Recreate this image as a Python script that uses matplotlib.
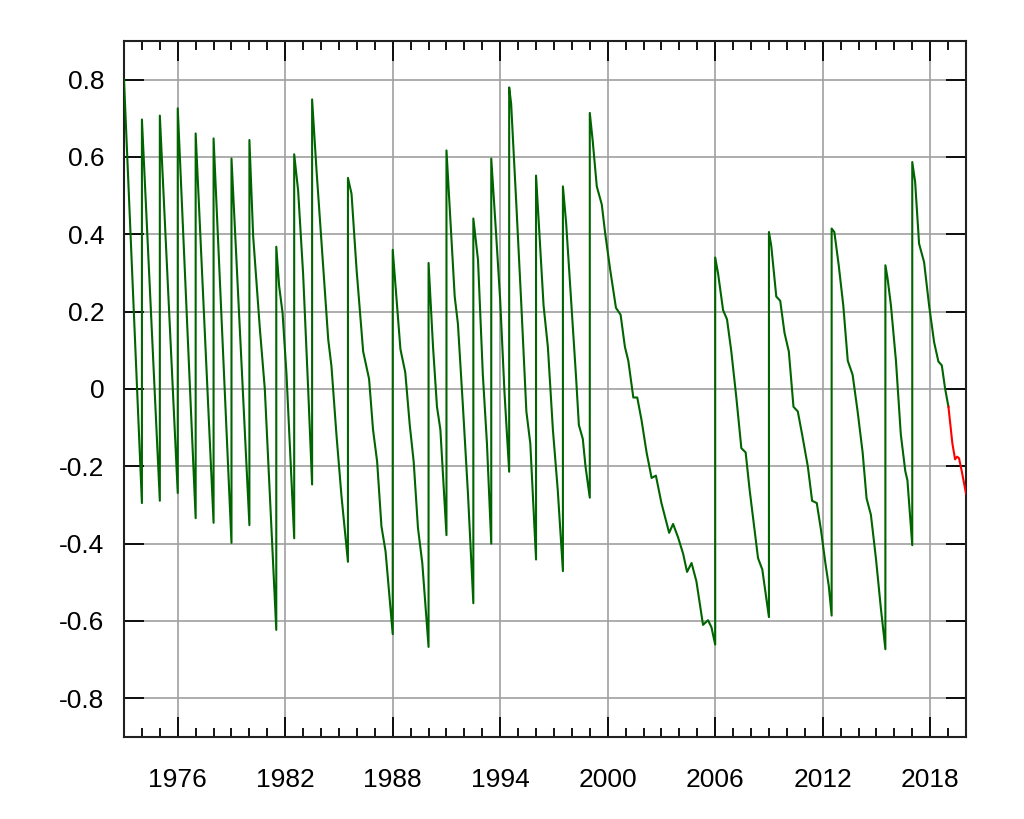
import matplotlib
matplotlib.use("Agg")
import matplotlib.pyplot as plt
from matplotlib.ticker import FixedLocator, MultipleLocator, FuncFormatter
import numpy as np

# UT1-UTC (s); repeated years are the leap-second jumps
years = [
    1973.0, 1974.0, 1974.0, 1975.0, 1975.0, 1976.0, 1976.0, 1977.0, 1977.0,
    1978.0, 1978.0, 1979.0, 1979.0, 1980.0, 1980.0, 1980.21, 1980.58, 1980.86,
    1981.5, 1981.5, 1981.66, 1981.85, 1982.07, 1982.5, 1982.5, 1982.72, 1983.0,
    1983.28, 1983.5, 1983.5, 1983.75, 1984.12, 1984.4, 1984.58, 1984.86, 1985.14,
    1985.5, 1985.5, 1985.7, 1985.98, 1986.35, 1986.68, 1986.9, 1987.13, 1987.37,
    1987.6, 1988.0, 1988.0, 1988.43, 1988.7, 1988.95, 1989.17, 1989.41, 1989.65,
    1990.0, 1990.0, 1990.25, 1990.47, 1990.66, 1991.0, 1991.0, 1991.46, 1991.64,
    1991.92, 1992.2, 1992.5, 1992.5, 1992.76, 1993.03, 1993.26, 1993.5, 1993.5,
    1993.78, 1994.0, 1994.24, 1994.5, 1994.5, 1994.61, 1994.9, 1995.18, 1995.46,
    1995.68, 1996.0, 1996.0, 1996.2, 1996.42, 1996.66, 1996.94, 1997.21, 1997.5,
    1997.5, 1997.68, 1997.96, 1998.24, 1998.39, 1998.61, 1998.76, 1999.0, 1999.0,
    1999.16, 1999.39, 1999.67, 1999.85, 2000.13, 2000.46, 2000.72, 2000.96,
    2001.15, 2001.43, 2001.65, 2001.89, 2002.17, 2002.45, 2002.69, 2003.0,
    2003.43, 2003.65, 2003.93, 2004.21, 2004.43, 2004.68, 2004.95, 2005.32,
    2005.6, 2005.79, 2006.0, 2006.0, 2006.16, 2006.44, 2006.66, 2006.9, 2007.18,
    2007.46, 2007.7, 2007.92, 2008.2, 2008.39, 2008.63, 2009.0, 2009.0, 2009.13,
    2009.41, 2009.63, 2009.87, 2010.11, 2010.37, 2010.61, 2010.85, 2011.17,
    2011.41, 2011.67, 2011.91, 2012.15, 2012.34, 2012.5, 2012.5, 2012.65,
    2012.89, 2013.15, 2013.4, 2013.67, 2013.95, 2014.23, 2014.45, 2014.69,
    2014.97, 2015.25, 2015.5, 2015.5, 2015.62, 2015.81, 2016.09, 2016.36,
    2016.61, 2016.73, 2017.0, 2017.0, 2017.16, 2017.38, 2017.66, 2017.94,
    2018.22, 2018.46, 2018.65, 2018.83, 2019.02,
]
dut1 = [
    0.80, -0.295, 0.697, -0.289, 0.707, -0.269, 0.726, -0.334, 0.661,
    -0.346, 0.648, -0.398, 0.596, -0.352, 0.644, 0.395, 0.158, 0.0,
    -0.623, 0.368, 0.266, 0.197, 0.039, -0.386, 0.607, 0.513, 0.296,
    0.0, -0.247, 0.749, 0.563, 0.316, 0.128, 0.059, -0.119, -0.277,
    -0.447, 0.546, 0.505, 0.31, 0.097, 0.026, -0.105, -0.188, -0.355,
    -0.42, -0.634, 0.36, 0.103, 0.043, -0.093, -0.188, -0.36, -0.45,
    -0.667, 0.326, 0.109, -0.046, -0.105, -0.378, 0.617, 0.239, 0.168,
    -0.046, -0.271, -0.554, 0.441, 0.334, 0.037, -0.141, -0.4, 0.596,
    0.394, 0.228, -0.01, -0.214, 0.78, 0.738, 0.477, 0.216, -0.058,
    -0.141, -0.441, 0.552, 0.394, 0.216, 0.109, -0.105, -0.26, -0.471,
    0.524, 0.429, 0.228, 0.026, -0.093, -0.129, -0.2, -0.281, 0.714,
    0.643, 0.524, 0.477, 0.406, 0.311, 0.21, 0.192, 0.109,
    0.073, -0.022, -0.022, -0.081, -0.164, -0.23, -0.224, -0.295,
    -0.372, -0.349, -0.384, -0.426, -0.473, -0.45, -0.497, -0.61,
    -0.598, -0.616, -0.661, 0.34, 0.299, 0.204, 0.18, 0.097, -0.022,
    -0.153, -0.164, -0.26, -0.366, -0.437, -0.467, -0.59, 0.406, 0.37,
    0.239, 0.228, 0.145, 0.097, -0.046, -0.058, -0.117, -0.2,
    -0.289, -0.295, -0.366, -0.45, -0.509, -0.586, 0.415, 0.406,
    0.322, 0.216, 0.073, 0.037, -0.058, -0.164, -0.283, -0.325,
    -0.437, -0.568, -0.673, 0.32, 0.287, 0.216, 0.073, -0.117,
    -0.212, -0.236, -0.404, 0.587, 0.536, 0.376, 0.328, 0.216,
    0.121, 0.071, 0.061, 0.002, -0.046,
]

# predicted part (red)
pred_years = [2019.02, 2019.24, 2019.39, 2019.5, 2019.61, 2019.76, 2020.0]
pred_dut1 = [-0.046, -0.141, -0.182, -0.175, -0.179, -0.212, -0.27]

year_ticks = [1976, 1982, 1988, 1994, 2000, 2006, 2012, 2018]
value_ticks = [-0.8, -0.6, -0.4, -0.2, 0, 0.2, 0.4, 0.6, 0.8]

plt.rcParams['font.family'] = ['Liberation Sans', 'DejaVu Sans']
plt.rcParams['axes.unicode_minus'] = False

fig = plt.figure(figsize=(10.24, 8.19), dpi=100)
ax = fig.add_axes([124 / 1024, 1 - 737 / 819, (966 - 124) / 1024, (737 - 41) / 819])

ax.plot(years, dut1, color="#006400", lw=1.5, zorder=3)
ax.plot(pred_years, pred_dut1, color="#ff0000", lw=1.5, zorder=3)

ax.set_xlim(1973, 2020)
ax.set_ylim(-0.9, 0.9)

ax.xaxis.set_major_locator(FixedLocator(year_ticks))
ax.xaxis.set_minor_locator(MultipleLocator(1))
ax.yaxis.set_major_locator(FixedLocator(value_ticks))
ax.yaxis.set_major_formatter(FuncFormatter(lambda v, p: "%g" % round(v, 1) if abs(v) > 1e-9 else "0"))

ax.tick_params(which="both", direction="in", top=True, right=True, color="black", width=1.3)
ax.tick_params(which="major", length=14.5, labelsize=19)
ax.tick_params(which="minor", length=6.5)
ax.tick_params(axis="x", which="major", pad=22)
ax.tick_params(axis="y", which="major", pad=14)

ax.grid(True, which="major", color="#a0a0a0", lw=1.2)
ax.set_axisbelow(True)
for s in ax.spines.values():
    s.set_linewidth(1.5)
    s.set_color("#202020")

fig.savefig("out.png", dpi=100)
